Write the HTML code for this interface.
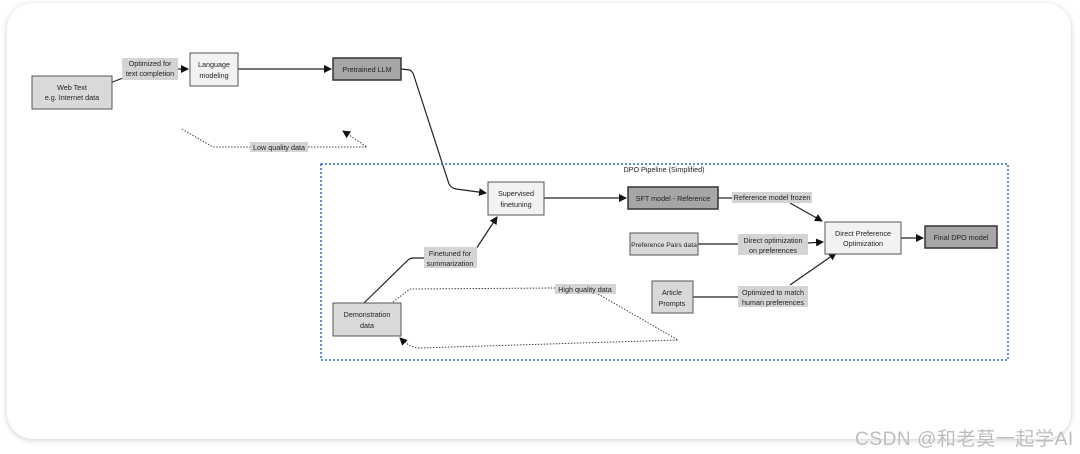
<!DOCTYPE html>
<html><head><meta charset="utf-8"><style>
html,body{margin:0;padding:0;background:#fff;width:1080px;height:454px;overflow:hidden}
.card{position:absolute;left:7px;top:3px;width:1064px;height:436px;border-radius:26px;background:#fff;box-shadow:0 1px 6px rgba(0,0,0,0.2)}
svg{position:absolute;left:0;top:0}
text{font-family:"Liberation Sans","DejaVu Sans",sans-serif;font-size:7.2px;fill:#222;text-anchor:middle}
.wm{position:absolute;left:855px;top:424px;font-family:"Liberation Sans","Noto Sans CJK SC",sans-serif;font-size:19px;color:#bdbdbd;white-space:nowrap;letter-spacing:0.6px}
</style></head><body>
<div class="card"></div>
<svg width="1080" height="454" viewBox="0 0 1080 454">
<defs><marker id="a" markerWidth="8" markerHeight="8" refX="7" refY="4" orient="auto" markerUnits="userSpaceOnUse"><path d="M0,0 L8,4 L0,8 z" fill="#111"/></marker></defs>
<g stroke="#222" stroke-width="1.2" fill="none">
<path d="M110,83 L123,78"/>
<path d="M178,69 L188,69" marker-end="url(#a)"/>
<path d="M238,69 L331,69" marker-end="url(#a)"/>
<path d="M401,69 L410,70 Q413,72 414,76 L449,184 Q451,188 456,189 L486,193" marker-end="url(#a)"/>
<path d="M544,198 L626,198" marker-end="url(#a)"/>
<path d="M718,198 L732,198"/>
<path d="M790,203 L822,221" marker-end="url(#a)"/>
<path d="M698,244 L738,244"/>
<path d="M808,243 L823,242" marker-end="url(#a)"/>
<path d="M693,297 L738,297"/>
<path d="M790,285 L836,253" marker-end="url(#a)"/>
<path d="M901,238 L923,238" marker-end="url(#a)"/>
<path d="M364,303 L408,260 Q410,258 414,258 L424,258"/>
<path d="M476,249 L497,217" marker-end="url(#a)"/>
</g>
<g stroke="#444" stroke-width="1" fill="none" stroke-dasharray="1.5,1.5">
<path d="M182,129 L213,147 L250,147"/><path d="M308,147 L367,147 L343,131" marker-end="url(#a)"/>
<path d="M393,302 L410,289 L555,288"/>
<path d="M598,294 L678,340 L420,348 Q410,348 400,338" marker-end="url(#a)"/>
</g>
<rect x="321" y="164" width="687" height="196" fill="none" stroke="#2a6cc9" stroke-width="1.5" stroke-dasharray="2,2"/>
<text x="664" y="172">DPO Pipeline (Simplified)</text>
<g stroke="#555" stroke-width="1">
<rect x="32" y="76" width="80" height="33" fill="#d9d9d9"/>
<rect x="190" y="53" width="48" height="33" fill="#f2f2f2"/>
<rect x="333" y="58" width="68" height="22" fill="#a6a6a6" stroke="#333" stroke-width="1.5"/>
<rect x="488" y="182" width="56" height="33" fill="#f2f2f2"/>
<rect x="628" y="187" width="90" height="22" fill="#a6a6a6" stroke="#333" stroke-width="1.5"/>
<rect x="825" y="222" width="76" height="32" fill="#f2f2f2"/>
<rect x="925" y="226" width="72" height="22" fill="#a6a6a6" stroke="#333" stroke-width="1.5"/>
<rect x="630" y="233" width="68" height="22" fill="#d9d9d9"/>
<rect x="652" y="281" width="41" height="32" fill="#d9d9d9"/>
<rect x="333" y="303" width="68" height="33" fill="#d9d9d9"/>
</g>
<g fill="#d4d4d4">
<rect x="122" y="58" width="56" height="22"/>
<rect x="250" y="142" width="58" height="10"/>
<rect x="732" y="192" width="80" height="11"/>
<rect x="738" y="234" width="70" height="21"/>
<rect x="738" y="286" width="70" height="21"/>
<rect x="424" y="247" width="53" height="21"/>
<rect x="555" y="284" width="61" height="10"/>
</g>
<text x="72" y="90">Web Text</text><text x="72" y="100">e.g. Internet data</text>
<text x="150" y="66">Optimized for</text><text x="150" y="76">text completion</text>
<text x="214" y="67">Language</text><text x="214" y="78">modeling</text>
<text x="367" y="72">Pretrained LLM</text>
<text x="279" y="150">Low quality data</text>
<text x="516" y="196">Supervised</text><text x="516" y="207">finetuning</text>
<text x="673" y="201">SFT model - Reference</text>
<text x="772" y="200">Reference model frozen</text>
<text x="863" y="236">Direct Preference</text><text x="863" y="246">Optimization</text>
<text x="961" y="240">Final DPO model</text>
<text x="664" y="247" style="font-size:6.8px">Preference Pairs data</text>
<text x="773" y="243">Direct optimization</text><text x="773" y="253">on preferences</text>
<text x="672" y="295">Article</text><text x="672" y="306">Prompts</text>
<text x="773" y="295">Optimized to match</text><text x="773" y="305">human preferences</text>
<text x="450" y="256">Finetuned for</text><text x="450" y="266">summarization</text>
<text x="585" y="292">High quality data</text>
<text x="367" y="317">Demonstration</text><text x="367" y="328">data</text>
</svg>
<div class="wm">CSDN @和老莫一起学AI</div>
</body></html>
